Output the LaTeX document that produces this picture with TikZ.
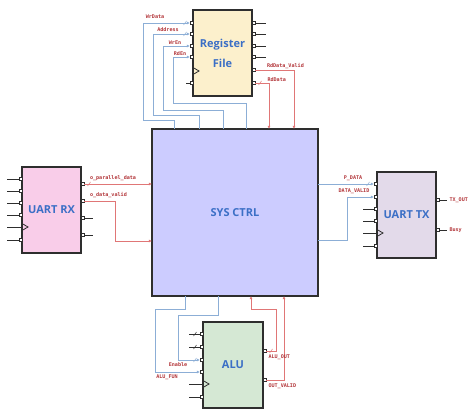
\documentclass[tikz,border=0pt]{standalone}
\usepackage{fontspec}
\setsansfont{Open Sans}
\setmonofont{DejaVu Sans Mono}
\usetikzlibrary{arrows.meta}
\definecolor{wireb}{HTML}{8CAED6}
\definecolor{wirer}{HTML}{E07676}
\definecolor{lbl}{HTML}{B3363A}
\definecolor{blk}{HTML}{3B6FC6}
\definecolor{edgec}{HTML}{2E2E2E}
\definecolor{rfc}{HTML}{FCF0CC}
\definecolor{scc}{HTML}{CCCCFF}
\definecolor{rxc}{HTML}{F9CDE9}
\definecolor{txc}{HTML}{E3DAEA}
\definecolor{aluc}{HTML}{D5E8D4}
\newcommand{\pL}[2]{\draw[portsq] ({#1-3},{#2-1.5}) rectangle (#1,{#2+1.5});}
\newcommand{\pR}[2]{\draw[portsq] (#1,{#2-1.5}) rectangle ({#1+3},{#2+1.5});}
\newcommand{\clk}[2]{\draw[stubw] (#1,{#2-3.5}) -- ({#1+6},#2) -- (#1,{#2+3.5});}
\newcommand{\busmark}[3]{\draw[#3,line width=0.5pt] ({#1-1.5},{#2+2}) -- ({#1+1.5},{#2-2});}
\begin{document}
\begin{tikzpicture}[x=1pt,y=-1pt,
  block/.style={draw=edgec, line width=1.1pt, inner sep=0pt, align=center,
    font=\sffamily\bfseries\fontsize{11}{13}\selectfont, text=blk},
  bw/.style={draw=wireb, line width=0.8pt},
  rw/.style={draw=wirer, line width=0.8pt},
  tip/.style={-{Latex[length=3.2pt,width=3pt]}},
  lab/.style={font=\ttfamily\bfseries\fontsize{5.1}{5.5}\selectfont, text=lbl, inner sep=0.3pt},
  stubw/.style={draw=edgec, line width=0.8pt},
  portsq/.style={draw=edgec, fill=white, line width=0.6pt}]
\useasboundingbox[fill=white] (0,0) rectangle (474,417);

% blocks
\node[block, fill=rfc, minimum width=59pt, minimum height=86pt] (rf) at (222.5,53) {Register\\[7pt]File};
\node[block, fill=scc, line width=1.8pt, minimum width=166pt, minimum height=167pt] (sc) at (235,212.5) {SYS CTRL};
\node[block, fill=rxc, minimum width=59pt, minimum height=86pt] (rx) at (51.5,210) {UART RX};
\node[block, fill=txc, minimum width=59pt, minimum height=86pt] (tx) at (406.5,215) {UART TX};
\node[block, fill=aluc, minimum width=60pt, minimum height=86pt] (alu) at (233,365) {ALU};

% ---------- Register File ports ----------
\foreach \y in {23,34,46,57,83} {\pL{193}{\y}}
\clk{193}{71}
\draw[stubw] (186,83) -- (190,83);
\foreach \y in {23,34,46,57,70,83} {\pR{252}{\y}}
\foreach \y in {23,34,46,57} {\draw[stubw] (255,\y) -- (266,\y);}

\coordinate (rfWr) at (190,23);
\coordinate (rfAd) at (190,34);
\coordinate (rfWe) at (190,46);
\coordinate (rfRe) at (190,57);
\coordinate (rfVa) at (255,70);
\coordinate (rfRd) at (255,83);
\coordinate (scT1) at (174,129);
\coordinate (scT2) at (199,129);
\coordinate (scT3) at (223,129);
\coordinate (scT4) at (246,129);
\coordinate (scT5) at (269,129);
\coordinate (scT6) at (294,129);

\draw[bw,tip] (scT1) -- (174,120) -- (143,120) -- (143,23) -- (rfWr);
\draw[bw,tip] (scT2) -- (199,115) -- (153,115) -- (153,34) -- (rfAd);
\draw[bw,tip] (scT3) -- (223,110) -- (163,110) -- (163,46) -- (rfWe);
\draw[bw,tip] (scT4) -- (246,103) -- (173,103) -- (173,57) -- (rfRe);
\busmark{185}{23}{wireb}
\busmark{185}{34}{wireb}
\draw[rw,tip] (rfVa) -- (294,70) -- (scT6);
\draw[rw,tip] (rfRd) -- (269,83) -- (scT5);
\busmark{260}{83}{wirer}

\node[lab] at (155,17) {WrData};
\node[lab] at (168,30) {Address};
\node[lab] at (175,42.5) {WrEn};
\node[lab] at (180,54) {RdEn};
\node[lab, anchor=west] at (266.5,66.5) {RdData\_Valid};
\node[lab, anchor=west] at (267,79.5) {RdData};

% ---------- UART RX ports ----------
\foreach \y in {179,191,203,215,240} {\pL{22}{\y} \draw[stubw] (7,\y) -- (19,\y);}
\draw[stubw] (7,227) -- (22,227);
\clk{22}{227}
\foreach \y in {184,201,218,235} {\pR{81}{\y}}
\foreach \y in {218,235} {\draw[stubw] (84,\y) -- (93,\y);}
\coordinate (rxPd) at (84,184);
\coordinate (rxDv) at (84,201);
\coordinate (scL1) at (152,184);
\coordinate (scL2) at (152,241);
\draw[rw,tip] (rxPd) -- (scL1);
\busmark{89}{184}{wirer}
\draw[rw,tip] (rxDv) -- (115,201) -- (115,241) -- (scL2);
\node[lab, anchor=west] at (89.5,178.5) {o\_parallel\_data};
\node[lab, anchor=west] at (89.5,195.5) {o\_data\_valid};

% ---------- UART TX ports ----------
\foreach \y in {184,197,209,221,246} {\pL{377}{\y}}
\foreach \y in {209,221,246} {\draw[stubw] (363,\y) -- (374,\y);}
\draw[stubw] (363,233) -- (377,233);
\clk{377}{233}
\foreach \y in {200,230} {\pR{436}{\y} \draw[stubw] (439,\y) -- (447,\y);}
\coordinate (scR1) at (318,184);
\coordinate (scR2) at (318,240);
\coordinate (txPd) at (374,184);
\coordinate (txDv) at (374,197);
\draw[bw,tip] (scR1) -- (txPd);
\busmark{368}{184}{wireb}
\draw[bw,tip] (scR2) -- (347,240) -- (347,197) -- (txDv);
\node[lab] at (353,178.5) {P\_DATA};
\node[lab] at (354,191.5) {DATA\_VALID};
\node[lab, anchor=west] at (449,200) {TX\_OUT};
\node[lab, anchor=west] at (449,230) {Busy};

% ---------- ALU ports ----------
\foreach \y in {334,347,360,372,397} {\pL{203}{\y}}
\foreach \y in {334,347,397} {\draw[stubw] (189,\y) -- (200,\y);}
\busmark{195}{334}{edgec}
\busmark{195}{347}{edgec}
\draw[stubw] (189,384) -- (203,384);
\clk{203}{384}
\foreach \y in {351,380} {\pR{263}{\y}}
\coordinate (scB1) at (185,296);
\coordinate (scB2) at (218,296);
\coordinate (scB3) at (251,296);
\coordinate (scB4) at (284,296);
\coordinate (aluEn) at (200,360);
\coordinate (aluFn) at (200,372);
\coordinate (aluOut) at (266,351);
\coordinate (aluVa) at (266,380);
\draw[bw,tip] (scB2) -- (218,315) -- (178,315) -- (178,360) -- (aluEn);
\busmark{195}{360}{wireb}
\draw[bw,tip] (scB1) -- (185,309) -- (155,309) -- (155,372) -- (aluFn);
\draw[rw,tip] (aluOut) -- (276,351) -- (276,309) -- (251,309) -- (scB3);
\busmark{271}{351}{wirer}
\draw[rw,tip] (aluVa) -- (284,380) -- (scB4);
\node[lab] at (178,365) {Enable};
\node[lab] at (167,377.5) {ALU\_FUN};
\node[lab, anchor=west] at (268,357.5) {ALU\_OUT};
\node[lab, anchor=west] at (268,386.5) {OUT\_VALID};
\end{tikzpicture}
\end{document}
